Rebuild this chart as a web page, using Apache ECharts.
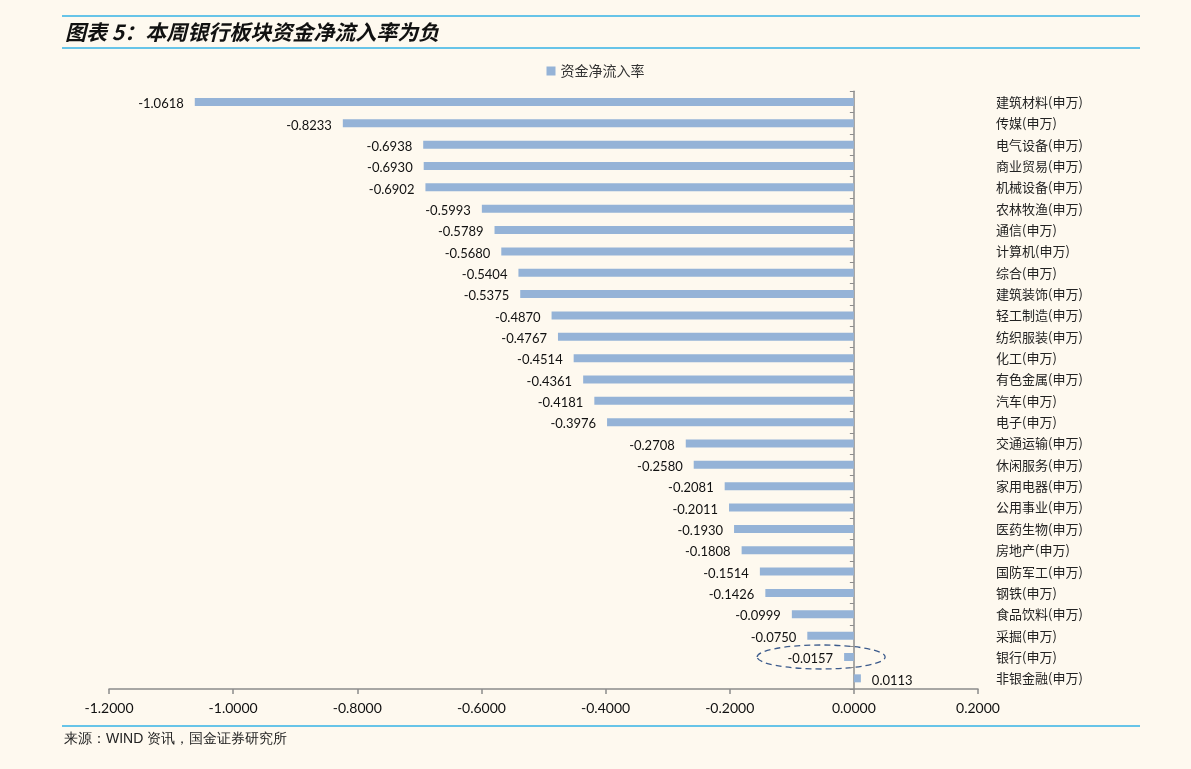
<!DOCTYPE html>
<html><head><meta charset="utf-8">
<script src="https://cdn.jsdelivr.net/npm/echarts@6/dist/echarts.min.js"></script>
<style>html,body{margin:0;padding:0;background:#fef9ef;}#c{width:1191px;height:769px;}</style>
</head><body><div id="c"></div>
<script>
const categories = ['建筑材料(申万)','传媒(申万)','电气设备(申万)','商业贸易(申万)','机械设备(申万)','农林牧渔(申万)','通信(申万)','计算机(申万)','综合(申万)','建筑装饰(申万)','轻工制造(申万)','纺织服装(申万)','化工(申万)','有色金属(申万)','汽车(申万)','电子(申万)','交通运输(申万)','休闲服务(申万)','家用电器(申万)','公用事业(申万)','医药生物(申万)','房地产(申万)','国防军工(申万)','钢铁(申万)','食品饮料(申万)','采掘(申万)','银行(申万)','非银金融(申万)'];
const values = [-1.0618,-0.8233,-0.6938,-0.6930,-0.6902,-0.5993,-0.5789,-0.5680,-0.5404,-0.5375,-0.4870,-0.4767,-0.4514,-0.4361,-0.4181,-0.3976,-0.2708,-0.2580,-0.2081,-0.2011,-0.1930,-0.1808,-0.1514,-0.1426,-0.0999,-0.0750,-0.0157,0.0113];
const seriesName = '资金净流入率';
const titleText = '图表 5：本周银行板块资金净流入率为负';
const sourceText = '来源：WIND 资讯，国金证券研究所';
const highlightCategory = '银行(申万)';

const chart = echarts.init(document.getElementById('c'));
const latin = 'Lato, "Noto Sans CJK SC", sans-serif';
const option = {
  backgroundColor: '#fef9ef',
  animation: false,
  title: {
    text: titleText, left: 60, top: 17,
    textStyle: {fontSize: 21, fontWeight: 'bold', fontStyle: 'italic', color: '#111', fontFamily: '"Noto Sans CJK SC", sans-serif'}
  },
  legend: {
    data: [seriesName], top: 59, left: 'center', itemWidth: 9, itemHeight: 9, itemGap: 4,
    icon: 'rect',
    textStyle: {fontSize: 14, color: '#333', fontFamily: '"Noto Sans CJK SC", sans-serif'}
  },
  grid: {left: 109, right: 213, top: 91.3, height: 597.7, containLabel: false},
  xAxis: {
    type: 'value', min: -1.2, max: 0.2, interval: 0.2,
    axisLine: {show: true, lineStyle: {color: '#8c8c8c', width: 1.5}},
    axisTick: {show: true, length: 5, lineStyle: {color: '#8c8c8c', width: 1.5}},
    splitLine: {show: false},
    axisLabel: {margin: 12, fontSize: 14, color: '#111', fontFamily: latin, formatter: v => v.toFixed(4)}
  },
  yAxis: [{
    type: 'category', data: categories, inverse: true,
    axisLine: {show: true, onZero: true, lineStyle: {color: '#8c8c8c', width: 1.5}},
    axisTick: {show: true, length: 4, inside: false, lineStyle: {color: '#8c8c8c', width: 1}},
    axisLabel: {show: false}
  }, {
    type: 'category', data: categories, inverse: true, position: 'right',
    axisLine: {show: false, onZero: false}, axisTick: {show: false},
    axisLabel: {show: true, margin: 18, align: 'left', fontSize: 13, color: '#222', fontFamily: '"Noto Sans CJK SC", sans-serif'}
  }],
  series: [{
    name: seriesName, type: 'bar', yAxisIndex: 0, barWidth: 8,
    itemStyle: {color: '#95b3d7'},
    data: values.map(v => ({value: v, label: {position: v < 0 ? 'left' : 'right'}})),
    label: {show: true, distance: 11, fontSize: 13, color: '#111', fontFamily: latin, offset: [0, 2],
      formatter: p => p.value.toFixed(4)}
  }],
  graphic: [
    {type: 'line', shape: {x1: 62, y1: 16, x2: 1140, y2: 16}, style: {stroke: '#35b2e6', lineWidth: 1.5}},
    {type: 'line', shape: {x1: 62, y1: 48, x2: 1140, y2: 48}, style: {stroke: '#35b2e6', lineWidth: 1.5}},
    {type: 'line', shape: {x1: 62, y1: 726, x2: 1140, y2: 726}, style: {stroke: '#35b2e6', lineWidth: 1.5}},
    {type: 'text', left: 64, top: 732, style: {text: sourceText, fontSize: 14, fill: '#222', font: '14px "Noto Sans CJK SC", sans-serif'}}
  ]
};
chart.setOption(option);
const idx = categories.indexOf(highlightCategory);
const c = chart.convertToPixel({xAxisIndex: 0, yAxisIndex: 0}, [values[idx] - 0.037, categories[idx]]);
const opt2 = option.graphic.slice();
opt2.push({type: 'ellipse', shape: {cx: c[0], cy: c[1], rx: 64, ry: 12},
  style: {fill: 'none', stroke: '#3c5b8c', lineWidth: 1.3, lineDash: [6, 4]}});
chart.setOption({graphic: opt2});
</script></body></html>
